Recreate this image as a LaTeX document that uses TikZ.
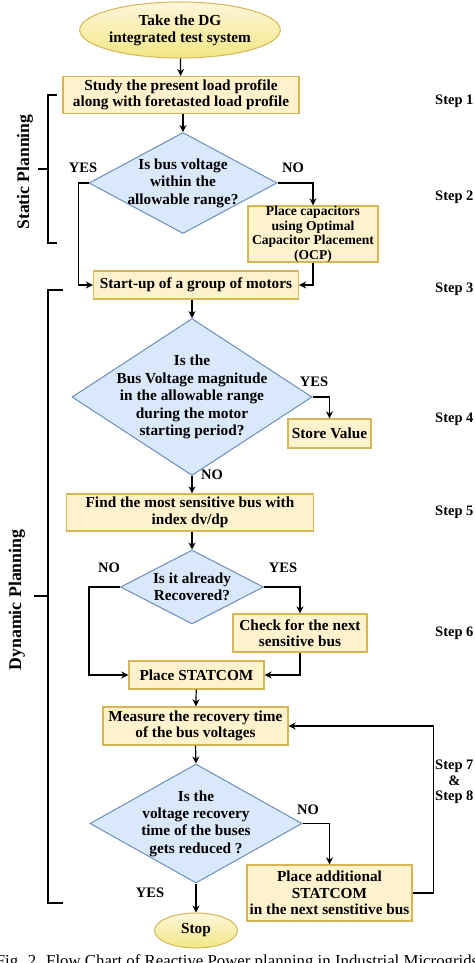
\documentclass[tikz,border=0pt]{standalone}
\usepackage{fontspec}
\setmainfont{Liberation Serif}
\usetikzlibrary{shapes.geometric,arrows.meta}
\definecolor{boxfill}{HTML}{FFF2CC}
\definecolor{boxline}{HTML}{D6B656}
\definecolor{decfill}{HTML}{DAE8FC}
\definecolor{decline}{HTML}{6C8EBF}
\tikzset{
  block/.style={draw=boxline, fill=boxfill, line width=1.3pt, inner sep=0pt,
    align=center, font=\bfseries\fontsize{15.3}{16.5}\selectfont},
  decision/.style={diamond, draw=decline, fill=decfill, line width=1pt, inner sep=0pt},
  dectext/.style={align=center, inner sep=0pt, font=\bfseries\fontsize{15.3}{17.4}\selectfont},
  terminal/.style={ellipse, draw=boxline, top color=boxfill!70!white, bottom color=boxline!55!yellow!60!white,
    line width=1pt, inner sep=0pt, align=center, font=\bfseries\fontsize{15.3}{17}\selectfont},
  arr/.style={line width=1.2pt, -{Stealth[length=7pt,width=7pt]}},
  lbl/.style={font=\bfseries\fontsize{14.5}{16}\selectfont, inner sep=0pt},
  steplbl/.style={anchor=west, align=center, inner sep=0pt, font=\bfseries\fontsize{14.5}{15.5}\selectfont},
  brace/.style={line width=1.2pt}
}
\begin{document}
\begin{tikzpicture}[x=1pt,y=-1pt]
  \useasboundingbox[fill=white] (0,0) rectangle (474,963);
  % static part
  \node[terminal, minimum width=176, minimum height=56] (start) at (180,30) {Take the DG\\integrated test system};
  \node[block, minimum width=236, minimum height=37] (load) at (181,95) {Study the present load profile\\along with foretasted load profile};
  \node[decision, minimum width=188, minimum height=101] (vcheck) at (183,183) {};
  \node[dectext] (vtext) at (vcheck) {Is bus voltage\\within the\\allowable range?};
  \node[block, minimum width=130, minimum height=56, font=\bfseries\fontsize{13.6}{14.5}\selectfont] (ocp) at (313,234) {Place capacitors\\using Optimal\\Capacitor Placement\\(OCP)};
  \node[block, minimum width=205, minimum height=28] (motor) at (196,285) {Start-up of a group of motors};
  % dynamic part
  \node[decision, minimum width=240, minimum height=157] (mcheck) at (192,397) {};
  \node[dectext] (mtext) at (mcheck) {Is the\\Bus Voltage magnitude\\in the allowable range\\during the motor\\starting period?};
  \node[block, minimum width=83, minimum height=29] (store) at (329.5,433.5) {Store Value};
  \node[block, minimum width=247, minimum height=37] (sens) at (190,512.5) {Find the most sensitive bus with\\index dv/dp};
  \node[decision, minimum width=143, minimum height=74] (rcheck) at (192,587) {};
  \node[dectext] (rtext) at (rcheck) {Is it already\\Recovered?};
  \node[block, minimum width=134, minimum height=38] (next) at (300,633) {Check for the next\\sensitive bus};
  \node[block, minimum width=135, minimum height=28] (statcom) at (196.5,675) {Place STATCOM};
  \node[block, minimum width=185, minimum height=38] (meas) at (195.5,726) {Measure the recovery time\\of the bus voltages};
  \node[decision, minimum width=212, minimum height=119] (tcheck) at (196,823.5) {};
  \node[dectext] (ttext) at (tcheck) {Is the\\voltage recovery\\time of the buses\\gets reduced ?};
  \node[block, minimum width=165, minimum height=56] (addst) at (329.5,893) {Place additional\\STATCOM\\in the next senstitive bus};
  \node[terminal, minimum width=83, minimum height=35] (stop) at (196,930.5) {Stop};
  % connectors
  \draw[arr] (start) -- (load);
  \draw[arr] (vcheck.north |- load.south) -- (vcheck.north);
  \draw[arr] (vcheck.west) -- ++(-10,0) |- (motor.west);
  \draw[arr] (vcheck.east) -| (ocp.north);
  \draw[arr] (ocp.south) |- (motor.east);
  \draw[arr] (mcheck.north |- motor.south) -- (mcheck.north);
  \draw[arr] (mcheck.east) -| (store.north);
  \draw[arr] (mcheck.south) -- (mcheck.south |- sens.north);
  \draw[arr] (rcheck.north |- sens.south) -- (rcheck.north);
  \draw[arr] (rcheck.west) -- ++(-31,0) |- (statcom.west);
  \draw[arr] (rcheck.east) -| (next.north);
  \draw[arr] (next.south) |- (statcom.east);
  \draw[arr] (statcom) -- (meas);
  \draw[arr] (meas.south) -- (tcheck.north);
  \draw[arr] (tcheck.east) -| (addst.north);
  \draw[arr] (addst.east) -- ++(21,0) |- (meas.east);
  \draw[arr] (tcheck.south) -- (stop.north);
  % branch labels
  \node[lbl] (y1) at (83,168) {YES};
  \node[lbl] (n1) at (293,168) {NO};
  \node[lbl] (y2) at (314,382) {YES};
  \node[lbl] (n2) at (212,475) {NO};
  \node[lbl] (n3) at (109,568) {NO};
  \node[lbl] (y3) at (283,568) {YES};
  \node[lbl] (n4) at (308,810) {NO};
  \node[lbl] (y4) at (150,893) {YES};
  % steps
  \node[steplbl] (s1) at (435,101) {Step 1};
  \node[steplbl] (s2) at (435,197) {Step 2};
  \node[steplbl] (s3) at (435,289) {Step 3};
  \node[steplbl] (s4) at (435,419) {Step 4};
  \node[steplbl] (s5) at (435,512) {Step 5};
  \node[steplbl] (s6) at (435,633) {Step 6};
  \node[steplbl] (s78) at (435,782) {Step 7\\\&\\Step 8};
  % brackets
  \draw[brace] (57,95) -- (48,95) -- (48,243) -- (57,243);
  \draw[brace] (38,169) -- (48,169);
  \node[rotate=90, font=\bfseries\fontsize{17.6}{20}\selectfont] (static) at (25,172) {Static Planning};
  \draw[brace] (63,290) -- (48,290) -- (48,903) -- (63,903);
  \draw[brace] (34,596) -- (48,596);
  \node[rotate=90, font=\bfseries\fontsize{17.8}{20}\selectfont] (dynamic) at (17,600) {Dynamic Planning};
  % caption
  \node[font=\fontsize{16.8}{19}\selectfont, anchor=north] (cap) at (237,951) {Fig. 2. Flow Chart of Reactive Power planning in Industrial Microgrids};
\end{tikzpicture}
\end{document}
